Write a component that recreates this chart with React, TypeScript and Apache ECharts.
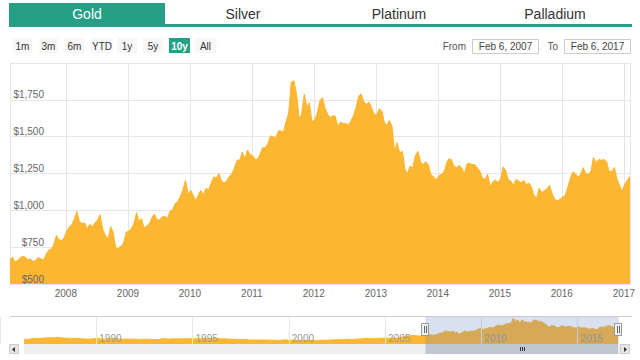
import React, { useEffect, useRef } from 'react';
import * as echarts from 'echarts';

// ---------- texts ----------
const tabs = ['Gold', 'Silver', 'Platinum', 'Palladium'];
const rangeButtons = ['1m', '3m', '6m', 'YTD', '1y', '5y', '10y', 'All'];
const activeButton = '10y';
const fromText = 'Feb 6, 2007';
const toText = 'Feb 6, 2017';

// ---------- main chart data: gold price, USD/oz, sampled on the 6th and 21st of each month ----------
const gold2007 = [null, null, 664, 684, 650, 660, 677, 688, 683, 666, 670, 655, 657, 680, 672, 662, 698, 730, 734, 765, 830, 800, 796, 812];
const gold2008 = [860, 885, 905, 945, 992, 925, 910, 915, 875, 905, 890, 915, 935, 970, 870, 830, 805, 890, 850, 745, 740, 760, 775, 850];
const gold2009 = [860, 875, 915, 985, 925, 945, 880, 895, 905, 950, 975, 935, 935, 955, 960, 945, 995, 1005, 1045, 1060, 1095, 1140, 1205, 1110];
const gold2010 = [1135, 1100, 1065, 1110, 1135, 1105, 1150, 1140, 1185, 1225, 1220, 1250, 1200, 1185, 1200, 1230, 1250, 1290, 1340, 1340, 1395, 1350, 1410, 1380];
const gold2011 = [1370, 1345, 1350, 1390, 1425, 1425, 1455, 1505, 1500, 1490, 1540, 1540, 1530, 1600, 1660, 1870, 1880, 1790, 1630, 1650, 1790, 1700, 1730, 1600];
const gold2012 = [1615, 1660, 1745, 1765, 1700, 1655, 1630, 1640, 1640, 1570, 1600, 1590, 1590, 1580, 1605, 1640, 1700, 1775, 1790, 1740, 1720, 1735, 1700, 1650];
const gold2013 = [1650, 1690, 1670, 1590, 1580, 1610, 1570, 1400, 1460, 1390, 1400, 1280, 1250, 1300, 1290, 1370, 1400, 1330, 1310, 1330, 1310, 1240, 1230, 1205];
const gold2014 = [1235, 1245, 1260, 1320, 1350, 1345, 1300, 1290, 1305, 1290, 1250, 1315, 1320, 1310, 1310, 1290, 1265, 1220, 1210, 1245, 1160, 1195, 1205, 1190];
const gold2015 = [1215, 1295, 1265, 1205, 1200, 1170, 1210, 1200, 1185, 1205, 1175, 1185, 1160, 1100, 1085, 1150, 1120, 1135, 1145, 1170, 1110, 1075, 1065, 1075];
const gold2016 = [1090, 1100, 1160, 1220, 1260, 1250, 1225, 1245, 1290, 1250, 1245, 1265, 1360, 1325, 1345, 1340, 1345, 1330, 1265, 1265, 1290, 1215, 1170, 1130];
const gold2017 = [1175, 1205, 1230];
const yearSeries: [number, (number | null)[]][] = [
  [2007, gold2007], [2008, gold2008], [2009, gold2009], [2010, gold2010], [2011, gold2011],
  [2012, gold2012], [2013, gold2013], [2014, gold2014], [2015, gold2015], [2016, gold2016], [2017, gold2017],
];

// ---------- navigator history: quarterly (Jan, Apr, Jul, Oct) from Apr 1986 to Jan 2007 ----------
const historyStart = 1986.25;
const historyQuarterly = [
  340, 345, 425,
  405, 440, 455, 465,
  480, 450, 435, 410,
  405, 385, 370, 370,
  410, 370, 360, 380,
  385, 360, 365, 358,
  354, 338, 355, 345,
  330, 340, 400, 365,
  385, 375, 385, 390,
  378, 390, 385, 383,
  400, 392, 383, 380,
  355, 345, 325, 325,
  290, 305, 292, 295,
  287, 282, 255, 310,
  285, 280, 282, 270,
  265, 260, 268, 280,
  282, 302, 315, 316,
  356, 328, 350, 380,
  412, 395, 395, 420,
  425, 428, 425, 470,
  550, 620, 635, 585,
  640,
];

// ---------- axis settings ----------
const START = Date.UTC(2007, 1, 6);
const END = Date.UTC(2017, 1, 6);
const YEAR_MS = 365.25 * 86400000;

const GREEN = '#25a085';
const GOLD = '#fbb632';
const FONT = 'Liberation Sans, Arial, Helvetica, sans-serif';

function toDecimalYear(ts: number) {
  const y = new Date(ts).getUTCFullYear();
  const a = Date.UTC(y, 0, 1);
  const b = Date.UTC(y + 1, 0, 1);
  return y + (ts - a) / (b - a);
}

const mainData: [number, number][] = [];
yearSeries.forEach(([yr, arr]) => {
  arr.forEach((v, i) => {
    if (v == null) return;
    const m = Math.floor(i / 2);
    const d = i % 2 ? 21 : 6;
    mainData.push([Date.UTC(yr, m, d), v]);
  });
});

const navData: [number, number][] = [];
historyQuarterly.forEach((v, i) => navData.push([historyStart + i * 0.25, v]));
mainData.forEach(([t, v]) => navData.push([toDecimalYear(t), v]));

function staticGraphics() {
  const g: any[] = [];
  // tabs
  const tabW = 156;
  g.push({ type: 'rect', shape: { x: 9, y: 3, width: tabW, height: 24 }, style: { fill: GREEN }, silent: true });
  g.push({ type: 'rect', shape: { x: 9 + tabW, y: 24, width: 632 - 9 - tabW, height: 3 }, style: { fill: GREEN }, silent: true });
  tabs.forEach((t, i) => {
    g.push({
      type: 'text', x: 9 + tabW * i + tabW / 2, y: 14, silent: true,
      style: { text: t, fill: i === 0 ? '#ffffff' : '#333333', fontSize: 14, fontFamily: FONT, textAlign: 'center', textVerticalAlign: 'middle' },
    });
  });
  // range buttons
  const btnX = [13, 39, 65, 91, 117, 143, 169, 195];
  const btnW = [19, 19, 19, 22, 20, 20, 21, 21];
  rangeButtons.forEach((b, i) => {
    const active = b === activeButton;
    g.push({ type: 'rect', shape: { x: btnX[i], y: 38, width: btnW[i], height: 15 }, style: { fill: active ? GREEN : '#f7f7f7' }, silent: true });
    g.push({
      type: 'text', x: btnX[i] + btnW[i] / 2, y: 46, silent: true,
      style: { text: b, fill: active ? '#ffffff' : '#333333', fontSize: 10, fontWeight: active ? 'bold' : 'normal', fontFamily: FONT, textAlign: 'center', textVerticalAlign: 'middle' },
    });
  });
  // from / to inputs
  g.push({ type: 'text', x: 466, y: 46, silent: true, style: { text: 'From', fill: '#555', fontSize: 10, fontFamily: FONT, textAlign: 'right', textVerticalAlign: 'middle' } });
  g.push({ type: 'rect', shape: { x: 472.5, y: 39.5, width: 66, height: 14 }, style: { fill: '#fff', stroke: '#cccccc', lineWidth: 1 }, silent: true });
  g.push({ type: 'text', x: 505.5, y: 46.5, silent: true, style: { text: fromText, fill: '#444', fontSize: 10, fontFamily: FONT, textAlign: 'center', textVerticalAlign: 'middle' } });
  g.push({ type: 'text', x: 558, y: 46, silent: true, style: { text: 'To', fill: '#555', fontSize: 10, fontFamily: FONT, textAlign: 'right', textVerticalAlign: 'middle' } });
  g.push({ type: 'rect', shape: { x: 564.5, y: 39.5, width: 66, height: 14 }, style: { fill: '#fff', stroke: '#cccccc', lineWidth: 1 }, silent: true });
  g.push({ type: 'text', x: 597.5, y: 46.5, silent: true, style: { text: toText, fill: '#444', fontSize: 10, fontFamily: FONT, textAlign: 'center', textVerticalAlign: 'middle' } });
  // navigator outline
  g.push({ type: 'line', shape: { x1: 10, y1: 316.5, x2: 632, y2: 316.5 }, style: { stroke: '#cccccc', lineWidth: 1 }, silent: true, z: 20 });
  return g;
}

function navGraphics(navL: number, maskL: number, maskR: number) {
  const g: any[] = [];
  // selection mask
  g.push({ type: 'rect', shape: { x: maskL, y: 317, width: maskR - maskL, height: 27 }, style: { fill: 'rgba(102,133,194,0.25)' }, silent: true, z: 15 });
  // scrollbar track & thumb
  g.push({ type: 'rect', shape: { x: navL, y: 344, width: 620 - navL, height: 10 }, style: { fill: '#eeeeee' }, silent: true, z: 15 });
  g.push({ type: 'rect', shape: { x: maskL, y: 344, width: maskR - maskL, height: 10 }, style: { fill: '#bfc8d1' }, silent: true, z: 16 });
  const c = Math.round((maskL + maskR) / 2) + 0.5;
  [-2, 0, 2].forEach((dx) => g.push({ type: 'line', shape: { x1: c + dx, y1: 347, x2: c + dx, y2: 351 }, style: { stroke: '#333', lineWidth: 1 }, silent: true, z: 17 }));
  // scrollbar buttons
  g.push({ type: 'rect', shape: { x: 9.5, y: 344.5, width: 9, height: 9 }, style: { fill: '#e6e6e6', stroke: '#cccccc', lineWidth: 1 }, silent: true, z: 16 });
  g.push({ type: 'polygon', shape: { points: [[15, 347], [15, 352], [12, 349.5]] }, style: { fill: '#333' }, silent: true, z: 17 });
  g.push({ type: 'rect', shape: { x: 620.5, y: 344.5, width: 9, height: 9 }, style: { fill: '#e6e6e6', stroke: '#cccccc', lineWidth: 1 }, silent: true, z: 16 });
  g.push({ type: 'polygon', shape: { points: [[624, 347], [624, 352], [627, 349.5]] }, style: { fill: '#333' }, silent: true, z: 17 });
  // handles
  [maskL, maskR].forEach((hx) => {
    const x = Math.round(hx);
    g.push({ type: 'rect', shape: { x: x - 3.5, y: 323.5, width: 7, height: 12 }, style: { fill: '#f2f2f2', stroke: '#999999', lineWidth: 1 }, silent: true, z: 18 });
    g.push({ type: 'line', shape: { x1: x - 0.5, y1: 326, x2: x - 0.5, y2: 333 }, style: { stroke: '#666', lineWidth: 1 }, silent: true, z: 19 });
    g.push({ type: 'line', shape: { x1: x + 1.5, y1: 326, x2: x + 1.5, y2: 333 }, style: { stroke: '#666', lineWidth: 1 }, silent: true, z: 19 });
  });
  return g;
}

export default function App() {
  const ref = useRef<HTMLDivElement>(null);
  useEffect(() => {
    const chart = echarts.init(ref.current!, null, { renderer: 'svg' });
    const option: any = {
      animation: false,
      useUTC: true,
      backgroundColor: '#ffffff',
      textStyle: { fontFamily: FONT },
      grid: [
        { left: 10, right: 10, top: 63, height: 221 },
        { left: -5, right: 22, top: 317, height: 27 },
      ],
      xAxis: [
        {
          type: 'time', gridIndex: 0, min: START, max: END,
          minInterval: YEAR_MS, maxInterval: YEAR_MS,
          splitLine: { show: true, lineStyle: { color: '#e6e6e6', width: 1 } },
          axisLine: { show: false }, axisTick: { show: false },
          axisLabel: { formatter: '{yyyy}', color: '#666666', fontSize: 10, margin: 4, showMinLabel: false, showMaxLabel: false },
        },
        {
          type: 'value', gridIndex: 1, min: 1985, max: toDecimalYear(END), interval: 5, z: 10,
          splitLine: { show: true, lineStyle: { color: '#e6e6e6', width: 1 } },
          axisLine: { show: false }, axisTick: { show: false },
          axisLabel: {
            inside: true, align: 'left', verticalAlign: 'bottom', margin: 1, padding: [0, 0, 0, 3],
            color: '#999999', fontSize: 10, showMinLabel: false, showMaxLabel: false,
            formatter: (v: number) => String(Math.round(v)),
          },
        },
      ],
      yAxis: [
        {
          type: 'value', gridIndex: 0, position: 'left', min: 500, max: 2000, interval: 250,
          splitLine: { show: true, lineStyle: { color: '#e6e6e6', width: 1 } },
          axisLine: { show: false }, axisTick: { show: false }, axisLabel: { show: false },
        },
        {
          type: 'value', gridIndex: 0, position: 'left', min: 500, max: 2000, interval: 250, z: 10,
          splitLine: { show: false }, axisLine: { show: false }, axisTick: { show: false },
          axisLabel: {
            inside: true, align: 'right', verticalAlign: 'bottom', margin: 34,
            color: '#666666', fontSize: 10, showMaxLabel: false,
            formatter: (v: number) => (v >= 2000 ? '' : '$' + v.toLocaleString('en-US')),
          },
        },
        { type: 'value', gridIndex: 1, min: 0, max: 2000, show: false },
      ],
      series: [
        {
          type: 'line', xAxisIndex: 0, yAxisIndex: 0, data: mainData, showSymbol: false, symbol: 'none',
          lineStyle: { color: GOLD, width: 1 }, areaStyle: { color: GOLD, opacity: 1 }, silent: true,
        },
        {
          type: 'line', xAxisIndex: 1, yAxisIndex: 2, data: navData, showSymbol: false, symbol: 'none',
          lineStyle: { color: GOLD, width: 1 }, areaStyle: { color: GOLD, opacity: 1 }, silent: true,
        },
      ],
    };
    chart.setOption(option);
    const px = (v: number) => chart.convertToPixel({ xAxisIndex: 1 }, v) as number;
    const navL = px(historyStart);
    const maskL = px(toDecimalYear(START));
    const maskR = px(toDecimalYear(END));
    chart.setOption({ graphic: [...staticGraphics(), ...navGraphics(navL, maskL, maskR)] });
    return () => chart.dispose();
  }, []);
  return <div ref={ref} style={{ position: 'fixed', left: 0, top: 0, width: 640, height: 360 }} />;
}
